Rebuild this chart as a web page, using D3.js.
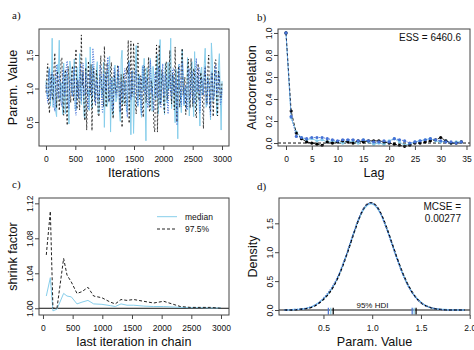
<!DOCTYPE html>
<html>
<head>
<meta charset="utf-8">
<script src="https://cdn.jsdelivr.net/npm/d3@7"></script>
<style>
  body { margin: 0; background: #fff; }
  text { font-family: "Liberation Sans", Arial, sans-serif; fill: #111; }
  .lab { font-family: "Liberation Serif", "Times New Roman", serif; }
</style>
</head>
<body>
<div class="chart"></div>
<script>
// ---- data ----
var chainNames = ['chain1', 'chain2', 'chain3'];
var chainColors = ['#87ceeb', '#000000', '#4671d5'];
var chainDash = [null, '3,2', '1,1.5'];

// trace values, 200 samples per chain spread over iterations 0..3000
var trace1 = [1.12,0.93,0.86,1.27,1.31,0.74,1.02,1.75,0.72,1.18,
  1.05,0.66,0.58,1.36,1.22,1.72,0.81,1.09,0.95,0.61,
  1.38,0.88,0.62,1.25,1.18,0.79,0.47,1.41,1.29,0.97,
  0.90,1.15,1.44,0.70,0.68,1.32,1.07,0.84,1.52,1.01,
  0.76,1.23,1.10,0.59,0.55,1.46,1.33,0.92,0.98,0.67,
  1.62,1.11,0.71,1.35,1.21,0.83,0.88,1.28,1.40,0.63,
  0.64,1.19,1.15,0.86,0.93,1.39,0.42,1.04,1.26,0.73,
  0.79,1.31,1.48,0.35,1.02,1.17,0.60,0.94,1.35,0.80,
  0.84,1.24,1.19,0.68,0.51,1.43,1.57,0.77,0.92,1.12,
  1.08,0.65,0.69,1.37,1.42,0.89,0.31,1.20,1.27,0.33,
  0.87,1.30,1.64,0.96,0.73,1.22,1.13,0.70,0.57,1.34,
  0.98,1.45,0.81,0.22,1.31,1.06,0.96,0.74,1.45,1.16,
  0.66,1.33,1.17,0.88,0.83,1.26,1.51,0.62,0.95,1.73,
  0.78,1.21,1.24,0.91,0.61,1.38,1.09,0.78,1.39,0.99,
  1.23,1.75,0.70,1.14,1.20,0.85,0.49,1.29,0.92,0.25,
  1.36,1.01,0.91,0.64,1.58,1.27,0.74,1.00,1.03,0.69,
  1.46,1.13,0.59,0.87,1.23,1.40,0.85,0.58,1.55,1.06,
  0.67,1.19,1.14,0.82,0.44,1.25,1.32,0.90,0.97,1.37,
  1.60,0.72,0.75,1.18,1.06,0.93,0.53,1.68,1.41,0.81,
  0.89,1.28,1.25,0.60,0.63,1.34,1.52,0.95,0.38,1.11];
var trace2 = [0.94,1.22,1.37,0.76,0.63,1.15,1.21,0.89,0.82,1.30,
  1.53,0.97,0.71,1.26,1.10,0.67,0.88,1.42,1.46,0.85,
  0.60,1.18,1.28,0.74,0.45,1.33,1.16,0.92,0.79,1.24,
  1.34,0.81,0.97,1.40,1.59,0.69,1.12,0.87,0.68,1.20,
  1.80,1.04,1.25,0.78,0.52,1.31,0.38,0.95,1.41,1.09,
  0.90,1.36,0.37,1.14,1.30,0.83,0.75,1.27,1.13,0.61,
  0.58,1.22,1.49,0.99,1.01,0.73,1.63,1.17,0.72,1.38,
  1.19,0.80,0.86,1.29,1.39,0.66,0.55,1.24,1.08,0.93,
  0.93,1.35,1.27,0.84,0.66,1.21,0.42,1.08,1.22,0.74,
  0.81,1.32,1.22,1.72,0.48,1.03,1.71,0.88,0.99,1.68,
  1.36,0.77,0.62,1.26,1.68,0.91,0.84,1.19,1.15,0.70,
  0.57,1.33,1.32,0.79,0.95,1.20,1.47,0.65,0.70,1.12,
  1.05,0.86,0.43,0.35,1.26,1.65,0.35,1.01,1.65,0.76,
  0.87,1.28,1.18,0.73,0.64,1.32,1.40,0.83,0.92,1.14,
  1.57,0.94,0.77,1.23,1.11,0.68,1.62,0.97,0.50,1.25,
  1.33,0.72,0.83,1.36,1.60,0.90,1.02,1.17,0.61,0.85,
  1.29,1.44,0.89,0.71,1.45,1.06,0.73,1.30,1.20,0.64,
  0.56,1.16,1.37,0.82,0.96,1.24,1.12,0.77,0.40,1.18,
  1.31,0.92,0.78,1.33,1.50,0.69,0.67,1.21,1.24,0.58,
  0.91,1.42,1.43,0.80,0.59,1.27,1.17,0.87,0.85,1.10];
var trace3 = [1.05,0.92,0.78,1.19,1.29,0.83,0.91,1.24,1.18,0.74,
  0.66,1.12,1.36,0.97,0.85,1.21,1.09,0.80,0.73,1.30,
  1.24,0.88,0.97,1.33,1.41,0.79,0.70,1.16,1.13,0.92,
  0.88,1.26,1.32,0.69,0.60,1.14,1.02,0.86,1.20,1.37,
  0.81,1.07,1.38,0.90,0.94,1.23,1.15,0.72,0.68,1.18,
  1.27,0.96,0.89,1.60,1.44,0.84,0.76,1.12,1.07,0.82,
  0.92,1.35,1.30,0.77,0.63,1.22,1.16,0.95,0.99,1.28,
  1.47,0.86,0.80,1.15,1.11,0.67,0.72,1.31,1.25,0.91,
  0.87,1.19,1.34,0.98,0.65,1.10,1.06,0.85,0.93,1.30,
  1.22,0.74,0.57,1.21,1.39,0.94,0.83,1.27,1.14,0.88,
  0.96,1.25,1.28,0.79,0.74,1.11,1.19,0.87,0.61,1.29,
  1.35,0.98,0.90,1.17,1.08,0.71,0.79,1.24,1.42,0.93,
  1.00,0.80,0.67,1.20,1.26,0.91,0.86,1.33,1.17,0.76,
  0.71,1.12,1.37,0.89,0.95,1.21,1.12,0.84,0.62,1.08,
  1.23,0.97,0.84,1.27,1.31,0.93,0.98,1.16,0.45,0.81,
  1.21,1.36,0.88,0.73,1.40,1.09,0.77,1.02,1.04,0.69,
  0.69,1.22,1.30,0.85,0.92,1.26,1.18,0.78,0.82,1.23,
  1.45,0.95,1.01,1.32,0.64,0.87,1.15,1.09,0.90,1.20,
  1.33,0.81,0.75,1.14,1.10,0.89,0.58,1.25,1.19,0.83,
  0.87,1.30,1.36,0.92,0.99,1.24,1.18,0.76,0.79,0.99];

// autocorrelation, lags 0..34
var acf1 = [1,0.23,0.10,0.05,0.03,0.04,0.02,0.03,0.01,0.02,0.01,0.00,0.02,0.01,0.00,0.03,0.01,-0.01,0.00,-0.01,0.02,0.04,0.01,-0.02,-0.01,0.01,0.02,0.03,0.04,0.02,0.01,0.02,0.00,0.01,0.01];
var acf2 = [1,0.29,0.09,0.04,0.01,0.00,-0.01,-0.02,0.01,0.00,0.01,0.02,0.01,0.00,0.02,0.01,0.02,0.02,0.02,0.01,0.00,-0.01,-0.02,-0.03,-0.02,0.00,0.00,0.01,0.02,0.03,0.05,0.02,0.00,0.00,0.01];
var acf3 = [1,0.24,0.06,0.05,0.04,0.05,0.05,0.05,0.04,0.03,0.02,0.03,0.03,0.03,0.02,0.03,0.02,0.01,0.01,0.02,0.01,0.04,0.03,0.02,0.00,0.01,0.02,0.03,0.04,0.03,0.02,0.01,0.01,0.00,0.01];
var essLabel = 'ESS = 6460.6';

// gelman shrink factor
var shrinkIter = [56,124,168,236,348,405,478,573,657,758,854,994,1135,1219,1315,1416,1528,1697,1865,2034,2174,2315,2483,2652,2820,3000];
var shrinkMedian = [1.014,1.035,0.997,0.999,1.017,1.014,1.013,1.005,1.007,1.009,1.005,1.0045,1.003,1.002,1.005,1.0035,1.0035,1.0025,1.002,1.002,1.0015,1.001,1.0007,1.0007,1.0004,1.0003];
var shrink975 = [1.061,1.111,1.000,1.000,1.057,1.038,1.030,1.017,1.019,1.024,1.014,1.012,1.007,1.005,1.010,1.009,1.010,1.008,1.006,1.008,1.005,1.002,1.001,1.001,1.001,1.000];
var legendNames = ['median', '97.5%'];

// posterior density per chain
var densX = [0.10,0.15,0.20,0.25,0.30,0.35,0.40,0.45,0.50,0.55,0.60,0.65,0.70,0.75,0.80,0.85,0.90,0.95,1.00,1.05,1.10,1.15,1.20,1.25,1.30,1.35,1.40,1.45,1.50,1.55,1.60,1.65,1.70,1.75,1.80,1.85,1.90,1.95];
var dens1 = [0.00,0.00,0.01,0.01,0.02,0.04,0.07,0.12,0.19,0.28,0.40,0.57,0.78,1.02,1.28,1.53,1.72,1.83,1.85,1.78,1.63,1.41,1.16,0.91,0.68,0.48,0.32,0.21,0.13,0.07,0.04,0.02,0.01,0.01,0.00,0.00,0.00,0.00];
var dens2 = [0.00,0.00,0.00,0.01,0.02,0.03,0.06,0.11,0.18,0.27,0.39,0.56,0.77,1.01,1.27,1.52,1.73,1.85,1.87,1.80,1.64,1.42,1.17,0.92,0.69,0.49,0.33,0.21,0.12,0.07,0.04,0.02,0.01,0.00,0.00,0.00,0.00,0.00];
var dens3 = [0.00,0.00,0.01,0.01,0.02,0.04,0.07,0.12,0.20,0.30,0.42,0.58,0.79,1.03,1.29,1.54,1.74,1.84,1.86,1.79,1.62,1.40,1.15,0.90,0.67,0.47,0.32,0.20,0.12,0.07,0.04,0.02,0.01,0.00,0.00,0.00,0.00,0.00];
var hdiLow = [0.575, 0.600, 0.550];
var hdiHigh = [1.430, 1.450, 1.410];
var mcseLabel = ['MCSE =', '0.00277'];

// tick labels
var iterTicks = [0, 500, 1000, 1500, 2000, 2500, 3000];
var valueTicks = [0.5, 1.0, 1.5];
var lagTicks = [0, 5, 10, 15, 20, 25, 30, 35];
var acfTicks = [0, 0.2, 0.4, 0.6, 0.8, 1.0];
var shrinkTicks = [1.00, 1.04, 1.08, 1.12];
var densYTicks = [0, 0.5, 1.0, 1.5];
var densXTicks = [0.5, 1.0, 1.5, 2.0];

var width = 474, height = 350;

var svg = d3.select('.chart')
  .append('svg')
    .attr('width', width)
    .attr('height', height);

// R-like axes: box, outward ticks, rotated y labels
function frame(x, y, xTicks, yTicks, xFmt, yFmt) {
  var g = svg.append('g');
  var x0 = x.range()[0], x1 = x.range()[1];
  var y0 = y.range()[1], y1 = y.range()[0];

  var xa = g.append('g')
      .attr('transform', `translate(0, ${y1})`)
      .call(d3.axisBottom(x).tickValues(xTicks).tickSize(4).tickFormat(xFmt));
  xa.selectAll('text').attr('y', 16).attr('dy', 0);

  var ya = g.append('g')
      .attr('transform', `translate(${x0}, 0)`)
      .call(d3.axisLeft(y).tickValues(yTicks).tickSize(4).tickFormat(yFmt));
  ya.selectAll('text')
      .attr('transform', 'rotate(-90)')
      .attr('x', 0).attr('y', -6).attr('dy', 0)
      .attr('text-anchor', 'middle');

  g.selectAll('.domain').remove();
  g.selectAll('.tick line').attr('stroke', '#444');
  g.selectAll('.tick text')
      .style('font-family', '"Liberation Sans", Arial, sans-serif')
      .style('font-size', '8.5px').attr('fill', '#222');

  g.append('rect')
      .attr('x', x0).attr('y', y0)
      .attr('width', x1 - x0).attr('height', y1 - y0)
      .attr('fill', 'none').attr('stroke', '#444').attr('stroke-width', 1);
  return g;
}

function titles(x, y, xt, yt) {
  var x0 = x.range()[0], x1 = x.range()[1];
  var y0 = y.range()[1], y1 = y.range()[0];
  svg.append('text')
      .attr('x', (x0 + x1) / 2).attr('y', y1 + 31)
      .attr('text-anchor', 'middle').style('font-size', '12.6px')
      .text(xt);
  svg.append('text')
      .attr('transform', `translate(${x0 - 22}, ${(y0 + y1) / 2}) rotate(-90)`)
      .attr('text-anchor', 'middle').style('font-size', '12.6px')
      .text(yt);
}

function tag(x, y, t) {
  svg.append('text').attr('class', 'lab')
      .attr('x', x).attr('y', y)
      .style('font-size', '11px')
      .text(t);
}

/**
 * a) trace plot
 */
var xA = d3.scaleLinear().domain([-119, 3119]).range([39, 229]);
var yA = d3.scaleLinear().domain([0.142, 1.888]).range([146, 29]);
var traces = [trace1, trace2, trace3];
var traceWidth = [1, 0.75, 1.1];
var step = 3000 / (trace1.length - 1);
var traceLine = d3.line()
  .x(function(d, i) { return xA(i * step); })
  .y(function(d) { return yA(d); });

traces.forEach(function(t, k) {
  svg.append('path')
      .attr('d', traceLine(t))
      .attr('fill', 'none')
      .attr('stroke', chainColors[k])
      .attr('stroke-width', traceWidth[k])
      .attr('stroke-dasharray', k === 1 ? '2,2' : chainDash[k]);
});
frame(xA, yA, iterTicks, valueTicks, d3.format('d'), d3.format('.1f'));
titles(xA, yA, 'Iterations', 'Param. Value');
tag(12, 19, 'a)');

/**
 * b) autocorrelation
 */
var xB = d3.scaleLinear().domain([-1.55, 35.68]).range([278, 470]);
var yB = d3.scaleLinear().domain([-0.027, 1.036]).range([146, 29]);
var acfs = [acf1, acf2, acf3];
var acfLine = d3.line()
  .x(function(d, i) { return xB(i); })
  .y(function(d) { return yB(d); });

svg.append('line')
    .attr('x1', xB.range()[0]).attr('x2', xB.range()[1])
    .attr('y1', yB(0)).attr('y2', yB(0))
    .attr('stroke', '#111').attr('stroke-dasharray', '3,2');

acfs.forEach(function(a, k) {
  svg.append('path')
      .attr('d', acfLine(a))
      .attr('fill', 'none')
      .attr('stroke', chainColors[k])
      .attr('stroke-width', k === 1 ? 0.8 : 1)
      .attr('stroke-dasharray', chainDash[k]);
  svg.append('g').selectAll('circle')
    .data(a)
    .enter().append('circle')
      .attr('cx', function(d, i) { return xB(i); })
      .attr('cy', function(d) { return yB(d); })
      .attr('r', 1.6)
      .attr('fill', chainColors[k]);
});
frame(xB, yB, lagTicks, acfTicks, d3.format('d'), d3.format('.1f'));
titles(xB, yB, 'Lag', 'Autocorrelation');
svg.append('text')
    .attr('x', 461).attr('y', 41)
    .attr('text-anchor', 'end').style('font-size', '10px')
    .text(essLabel);
tag(257, 21, 'b)');

/**
 * c) shrink factor
 */
var xC = d3.scaleLinear().domain([-67, 3135]).range([39, 229]);
var yC = d3.scaleLinear().domain([0.9923, 1.1261]).range([315, 198]);
var shrinkLine = function(vals) {
  return d3.line()
    .x(function(d, i) { return xC(shrinkIter[i]); })
    .y(function(d) { return yC(d); })(vals);
};

svg.append('line')
    .attr('x1', xC.range()[0]).attr('x2', xC.range()[1])
    .attr('y1', yC(1)).attr('y2', yC(1))
    .attr('stroke', '#111');
svg.append('path')
    .attr('d', shrinkLine(shrinkMedian))
    .attr('fill', 'none').attr('stroke', chainColors[0]).attr('stroke-width', 1);
svg.append('path')
    .attr('d', shrinkLine(shrink975))
    .attr('fill', 'none').attr('stroke', '#222').attr('stroke-width', 1)
    .attr('stroke-dasharray', '3,2');
frame(xC, yC, iterTicks, shrinkTicks, d3.format('d'), d3.format('.2f'));
titles(xC, yC, 'last iteration in chain', 'shrink factor');
tag(12, 188, 'c)');

// legend
var legend = svg.append('g');
legendNames.forEach(function(name, i) {
  legend.append('line')
      .attr('x1', 157).attr('x2', 177)
      .attr('y1', 216.7 + i * 12.3).attr('y2', 216.7 + i * 12.3)
      .attr('stroke', i === 0 ? chainColors[0] : '#222')
      .attr('stroke-dasharray', i === 0 ? null : '3,2');
  legend.append('text')
      .attr('x', 185).attr('y', 219.7 + i * 12.3)
      .style('font-size', '8.5px')
      .text(name);
});

/**
 * d) density
 */
var xD = d3.scaleLinear().domain([0.044, 2.003]).range([279, 470]);
var yD = d3.scaleLinear().domain([-0.0865, 1.938]).range([315, 198]);
var denss = [dens1, dens2, dens3];
var densLine = d3.line()
  .x(function(d, i) { return xD(densX[i]); })
  .y(function(d) { return yD(d); })
  .curve(d3.curveBasis);

svg.append('line')
    .attr('x1', xD.range()[0]).attr('x2', xD.range()[1])
    .attr('y1', yD(0)).attr('y2', yD(0))
    .attr('stroke', '#111');

denss.forEach(function(dd, k) {
  svg.append('path')
      .attr('d', densLine(dd))
      .attr('fill', 'none')
      .attr('stroke', chainColors[k])
      .attr('stroke-width', 1.4)
      .attr('stroke-dasharray', chainDash[k]);
});

chainNames.forEach(function(c, k) {
  [hdiLow[k], hdiHigh[k]].forEach(function(v) {
    svg.append('line')
        .attr('x1', xD(v)).attr('x2', xD(v))
        .attr('y1', yD(0.04)).attr('y2', yD(-0.08))
        .attr('stroke', chainColors[k]).attr('stroke-width', 1.2);
  });
});
svg.append('text')
    .attr('x', xD((d3.mean(hdiLow) + d3.mean(hdiHigh)) / 2)).attr('y', yD(0) - 1.8)
    .attr('text-anchor', 'middle').style('font-size', '8px')
    .text('95% HDI');

frame(xD, yD, densXTicks, densYTicks, d3.format('.1f'), d3.format('.1f'));
titles(xD, yD, 'Param. Value', 'Density');
mcseLabel.forEach(function(t, i) {
  svg.append('text')
      .attr('x', 461).attr('y', 210 + i * 11.7)
      .attr('text-anchor', 'end').style('font-size', '10px')
      .text(t);
});
tag(257, 190, 'd)');
</script>
</body>
</html>
